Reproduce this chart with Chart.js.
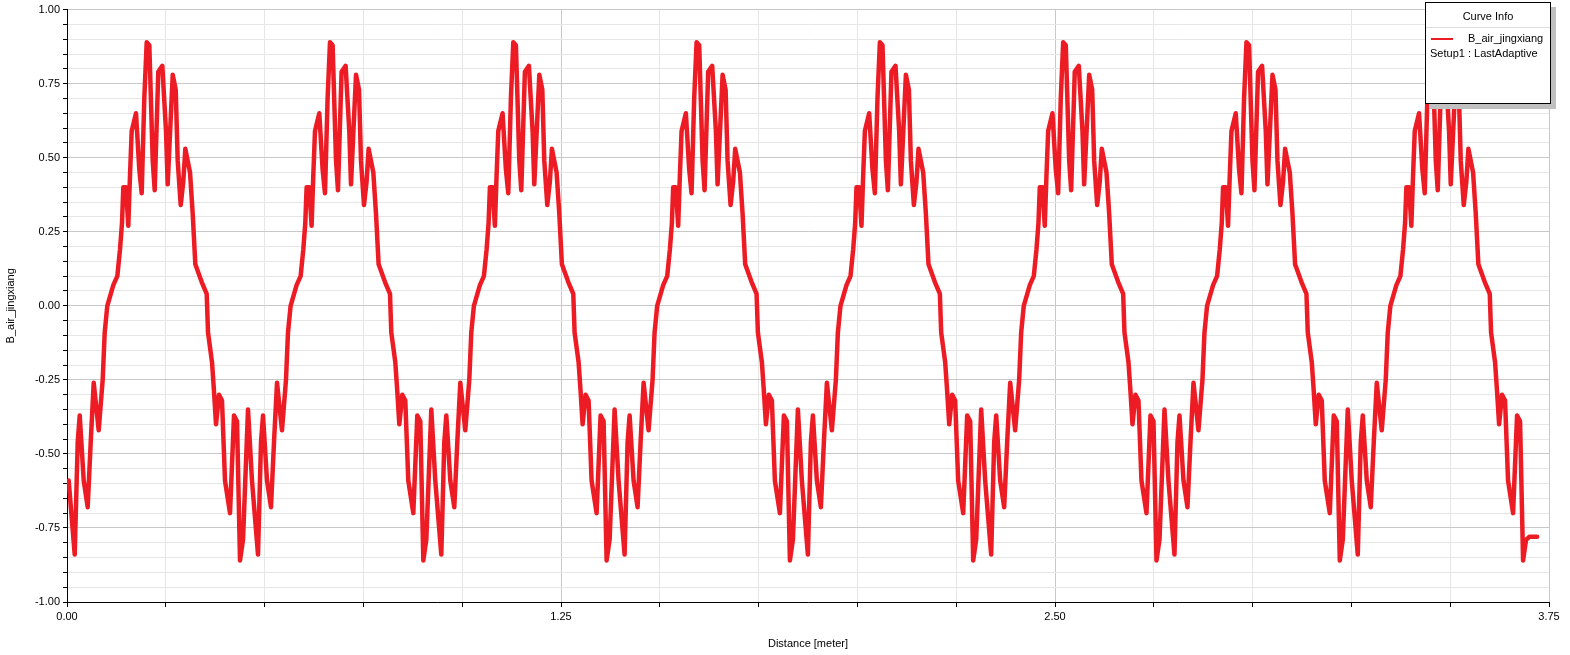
<!DOCTYPE html>
<html><head><meta charset="utf-8">
<script src="https://cdn.jsdelivr.net/npm/chart.js@4/dist/chart.umd.min.js"></script>
<style>
body{margin:0;background:#fff;font-family:"Liberation Sans",Arial,sans-serif}
#wrap{position:relative;width:1570px;height:655px}
#leg{position:absolute;left:1425px;top:2px;width:124px;height:100px;background:#fff;border:1px solid #000;box-shadow:5px 5px 0 #c0c0c0;font-size:11px;color:#000}
</style></head><body>
<div id="wrap"><canvas id="c" width="1570" height="655"></canvas>
<div id="leg">
<div style="text-align:center;margin-top:7px;">Curve Info</div>
<div style="border-top:1px solid #ddd;margin-top:5px"></div>
<div style="margin-top:4px;position:relative;height:13px"><span style="position:absolute;left:5px;top:6px;width:22px;border-top:2px solid #ED1C24"></span><span style="position:absolute;left:42px">B_air_jingxiang</span></div>
<div style="margin-left:4px;margin-top:2px">Setup1 : LastAdaptive</div>
</div></div>
<script>
// One period of the waveform: offsets (meter) and values
const periodOffsets = [0,0.0152,0.0253,0.0321,0.0372,0.0405,0.0473,0.0531,0.0574,0.0617,0.0726,0.0810,0.0870,0.0936,0.0997,0.1063,0.1149,0.1199,0.1290,0.1392,0.1485,0.1528,0.1655,0.1731,0.1781,0.1857,0.1923,0.1974,0.2093,0.2161,0.2227,0.2389,0.2515,0.2548,0.2649,0.2700,0.2751,0.2826,0.2902,0.2978,0.3105,0.3206,0.3282,0.3358,0.3434,0.3560,0.3661,0.3813,0.3889,0.3940,0.4041,0.4142,0.4218,0.4294,0.4420,0.4521,0.4572];
const periodValues = [0.00,0.07,0.10,0.19,0.28,0.40,0.40,0.27,0.44,0.59,0.65,0.46,0.38,0.70,0.89,0.88,0.49,0.39,0.79,0.81,0.59,0.41,0.78,0.73,0.49,0.34,0.42,0.53,0.45,0.31,0.14,0.08,0.04,-0.09,-0.19,-0.29,-0.40,-0.30,-0.32,-0.59,-0.70,-0.37,-0.39,-0.86,-0.79,-0.35,-0.59,-0.84,-0.46,-0.37,-0.59,-0.68,-0.46,-0.26,-0.42,-0.25,-0.09];
const periodLength = 0.4638;
const firstCrossing = 0.102;
const distanceEnd = 3.70;
const xTickLabels = [0, 1.25, 2.5, 3.75];
const yTickLabels = [-1,-0.75,-0.5,-0.25,0,0.25,0.5,0.75,1];

const pts=[];
for(let k=-1;k<9;k++){
  for(let i=0;i<periodOffsets.length;i++){
    const d=firstCrossing+k*periodLength+periodOffsets[i];
    if(d>=0 && d<=distanceEnd) pts.push({x:d,y:periodValues[i]});
  }
}
pts.push({x:distanceEnd,y:-0.78});
pts.push({x:3.72,y:-0.78});

const near=(v,arr)=>arr.some(a=>Math.abs(a-v)<1e-6);
new Chart(document.getElementById('c'),{
 type:'line',
 data:{datasets:[{data:pts,borderColor:'#ED1C24',borderWidth:4.5,borderJoinStyle:'round',borderCapStyle:'round',pointRadius:0,tension:0,fill:false}]},
 options:{responsive:false,animation:false,
  layout:{padding:{top:7,right:21,left:0,bottom:0}},
  plugins:{legend:{display:false},tooltip:{enabled:false}},
  scales:{
   x:{type:'linear',min:0,max:3.75,
    afterFit:s=>{s.height=53;},
    afterBuildTicks:s=>{const t=[];for(let i=0;i<=15;i++)t.push({value:i*0.25});s.ticks=t;},
    ticks:{autoSkip:false,maxRotation:0,color:'#000',font:{size:11,family:'Liberation Sans'},callback:v=>near(v,xTickLabels)?v.toFixed(2):''},
    grid:{color:c=>near(c.tick.value,xTickLabels)?'#c8c8c8':'#e6e6e6',tickColor:'#000',tickLength:5},
    border:{color:'#000',width:1},
    title:{display:true,text:'Distance [meter]',color:'#000',font:{size:11,family:'Liberation Sans'},padding:{top:8}}},
   y:{type:'linear',min:-1,max:1,
    afterFit:s=>{s.width=67;},
    afterBuildTicks:s=>{const t=[];for(let i=0;i<=40;i++)t.push({value:-1+i*0.05});s.ticks=t;},
    ticks:{autoSkip:false,color:'#000',font:{size:11,family:'Liberation Sans'},callback:v=>near(v,yTickLabels)?v.toFixed(2):''},
    grid:{color:c=>near(c.tick.value,yTickLabels)?'#c8c8c8':'#e6e6e6',tickColor:'#000',tickLength:4},
    border:{color:'#000',width:1},
    title:{display:true,text:'B_air_jingxiang',color:'#000',font:{size:11,family:'Liberation Sans'},padding:{bottom:4}}}
  }}
});
</script></body></html>
